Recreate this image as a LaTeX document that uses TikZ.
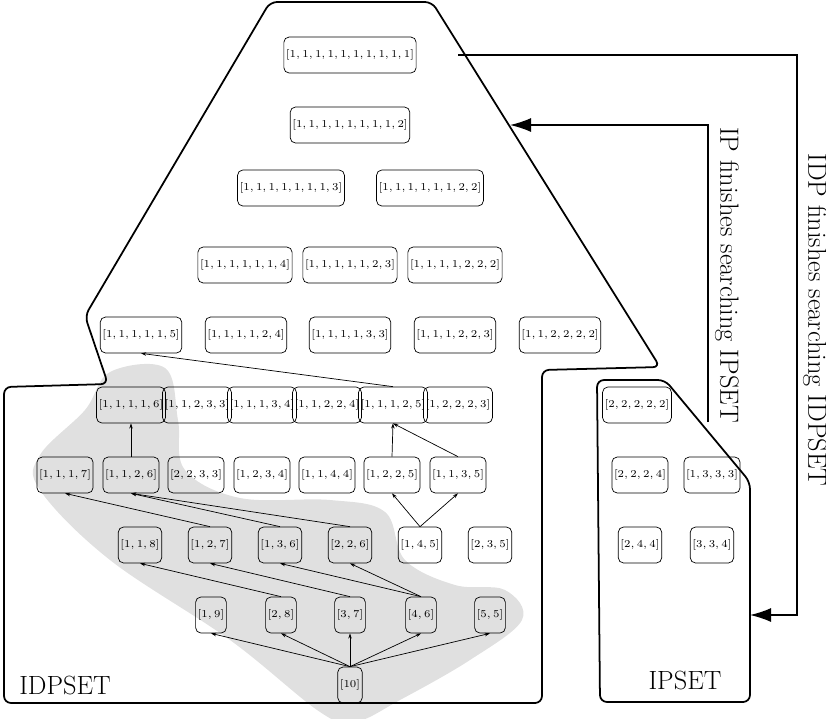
\documentclass[tikz,border=0pt]{standalone}
\usepackage{amsmath}
\usepackage{amssymb}
\usetikzlibrary{arrows.meta}

\tikzset{
    part/.style={draw, rounded corners=3pt, inner xsep=1.2pt, minimum height=0.72cm,
        font=\fontsize{6}{7}\selectfont},
    edge/.style={-{Stealth[length=3pt,width=2pt]}, thin},
    frame/.style={line width=1pt, rounded corners=4pt},
    bigarrow/.style={-{Latex[length=12pt,width=8pt]}, line width=0.8pt},
    setlabel/.style={font=\fontsize{15}{17}\selectfont}
}

\begin{document}
\begin{tikzpicture}[x=0.02cm, y=-0.02cm]
        \useasboundingbox (0, 0) rectangle (826, 718);

        % The shaded region needs to appear below everything
        \fill[black!12] plot[smooth cycle, tension=0.6] coordinates {
            (110, 372) (165, 368) (178, 420) (185, 470) (240, 498) (330, 500)
            (385, 512) (405, 560) (455, 585) (505, 590) (522, 620) (470, 660)
            (400, 700) (355, 722) (320, 712) (230, 640) (110, 560) (40, 490)
            (40, 455) (85, 410)};

        % upper part
        \node[part] (p1111111111) at (350, 55) {$[1,1,1,1,1,1,1,1,1,1]$};
        \node[part] (p111111112) at (350, 125) {$[1,1,1,1,1,1,1,1,2]$};
        \node[part] (p11111113) at (291, 188) {$[1,1,1,1,1,1,1,3]$};
        \node[part] (p11111122) at (430, 188) {$[1,1,1,1,1,1,2,2]$};
        \node[part] (p1111114) at (245, 265) {$[1,1,1,1,1,1,4]$};
        \node[part] (p1111123) at (350, 265) {$[1,1,1,1,1,2,3]$};
        \node[part] (p1111222) at (455, 265) {$[1,1,1,1,2,2,2]$};
        \node[part] (p111115) at (141, 335) {$[1,1,1,1,1,5]$};
        \node[part] (p111124) at (246, 335) {$[1,1,1,1,2,4]$};
        \node[part] (p111133) at (350, 335) {$[1,1,1,1,3,3]$};
        \node[part] (p111223) at (455, 335) {$[1,1,1,2,2,3]$};
        \node[part] (p112222) at (560, 335) {$[1,1,2,2,2,2]$};

        \node[part] (p11116) at (131, 405) {$[1,1,1,1,6]$};
        \node[part] (p11233) at (197, 405) {$[1,1,2,3,3]$};
        \node[part] (p11134) at (262, 405) {$[1,1,1,3,4]$};
        \node[part] (p11224) at (327, 405) {$[1,1,2,2,4]$};
        \node[part] (p11125) at (393, 405) {$[1,1,1,2,5]$};
        \node[part] (p12223) at (458, 405) {$[1,2,2,2,3]$};

        \node[part] (p1117) at (65, 475) {$[1,1,1,7]$};
        \node[part] (p1126) at (131, 475) {$[1,1,2,6]$};
        \node[part] (p2233) at (196, 475) {$[2,2,3,3]$};
        \node[part] (p1234) at (262, 475) {$[1,2,3,4]$};
        \node[part] (p1144) at (327, 475) {$[1,1,4,4]$};
        \node[part] (p1225) at (392, 475) {$[1,2,2,5]$};
        \node[part] (p1135) at (458, 475) {$[1,1,3,5]$};

        \node[part] (p118) at (140, 545) {$[1,1,8]$};
        \node[part] (p127) at (210, 545) {$[1,2,7]$};
        \node[part] (p136) at (280, 545) {$[1,3,6]$};
        \node[part] (p226) at (350, 545) {$[2,2,6]$};
        \node[part] (p145) at (420, 545) {$[1,4,5]$};
        \node[part] (p235) at (490, 545) {$[2,3,5]$};

        \node[part] (p19) at (211, 615) {$[1,9]$};
        \node[part] (p28) at (281, 615) {$[2,8]$};
        \node[part] (p37) at (350, 615) {$[3,7]$};
        \node[part] (p46) at (421, 615) {$[4,6]$};
        \node[part] (p55) at (490, 615) {$[5,5]$};

        \node[part] (p10) at (350, 685) {$[10]$};

        % IPSET parts
        \node[part] (p22222) at (637, 405) {$[2,2,2,2,2]$};
        \node[part] (p2224) at (640, 475) {$[2,2,2,4]$};
        \node[part] (p1333) at (712, 475) {$[1,3,3,3]$};
        \node[part] (p244) at (640, 545) {$[2,4,4]$};
        \node[part] (p334) at (712, 545) {$[3,3,4]$};

        \foreach \t in {p19, p28, p37, p46, p55}
            \draw[edge] (p10.north) -- (\t.south);
        \draw[edge] (p28.north) -- (p118.south);
        \draw[edge] (p37.north) -- (p127.south);
        \draw[edge] (p46.north) -- (p136.south);
        \draw[edge] (p46.north) -- (p226.south);
        \draw[edge] (p127.north) -- (p1117.south);
        \draw[edge] (p136.north) -- (p1126.south);
        \draw[edge] (p226.north) -- (p1126.south);
        \draw[edge] (p145.north) -- (p1225.south);
        \draw[edge] (p145.north) -- (p1135.south);
        \draw[edge] (p1126.north) -- (p11116.south);
        \draw[edge] (p1225.north) -- (p11125.south);
        \draw[edge] (p1135.north) -- (p11125.south);
        \draw[edge] (p11125.north) -- (p111115.south);

        % set outlines
        \draw[frame] (270, 2) -- (432, 2) -- (660, 367) -- (542, 370) -- (542, 703)
            -- (4, 703) -- (4, 387) -- (108, 384) -- (85, 316) -- cycle;
        \draw[frame] (597, 380) -- (665, 380) -- (750, 482) -- (750, 702)
            -- (600, 702) -- cycle;

        \node[setlabel] (idpset) at (65, 685) {IDPSET};
        \node[setlabel] (ipset) at (685, 680) {IPSET};

        % search order
        \coordinate (idpA) at (458, 55);
        \coordinate (idpB) at (797, 55);
        \coordinate (idpC) at (797, 615);
        \coordinate (idpD) at (750, 615);
        \draw[bigarrow] (idpA) -- (idpB) -- (idpC) -- (idpD);
        \node[setlabel, rotate=-90] (idptext) at (815, 320) {IDP finishes searching IDPSET};

        \coordinate (ipA) at (708, 422);
        \coordinate (ipB) at (708, 125);
        \coordinate (ipC) at (510, 125);
        \draw[bigarrow] (ipA) -- (ipB) -- (ipC);
        \node[setlabel, rotate=-90] (iptext) at (727, 275) {IP finishes searching IPSET};
    \end{tikzpicture}
\end{document}
